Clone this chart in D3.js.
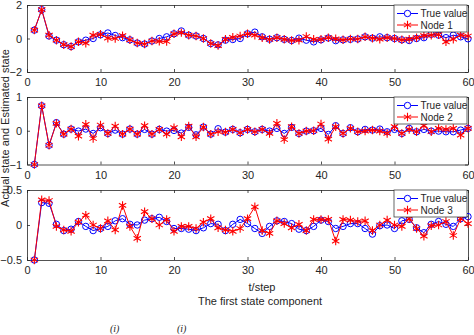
<!DOCTYPE html>
<html>
<head>
<meta charset="utf-8">
<script src="https://cdn.jsdelivr.net/npm/d3@7"></script>
<style>
  html, body { margin: 0; padding: 0; background: #fff; }
  svg { display: block; }
  text { font-family: "Liberation Sans", Arial, Helvetica, sans-serif; fill: #262626; }
</style>
</head>
<body>
<svg id="chart" width="474" height="335"></svg>
<script>
// time steps
const steps = d3.range(1, 61);

// Node 1: true state and estimate
const trueNode1 = [0.5, 1.72, 0.15, -0.1, -0.37, -0.48, -0.2, -0.1, 0.0, 0.22,
  0.33, 0.18, 0.05, -0.08, -0.27, -0.33, -0.15, 0.0, 0.1, 0.28,
  0.45, 0.2, 0.15, 0.0, -0.3, -0.38, -0.1, -0.06, 0.0, 0.28,
  0.38, 0.1, -0.04, 0.05, -0.05, -0.12, 0.02, -0.1, -0.2, -0.08,
  0.03, -0.13, -0.08, -0.05, -0.03, 0.1, 0.02, 0.1, 0.05, 0.0,
  -0.08, -0.12, 0.0, 0.05, 0.25, 0.2, 0.05, 0.2, 0.1, -0.02];
const estNode1 = [0.5, 1.72, 0.2, -0.1, -0.37, -0.48, -0.2, -0.28, 0.2, 0.25,
  0.02, 0.0, 0.17, -0.08, -0.27, -0.33, -0.15, -0.17, -0.18, 0.28,
  0.35, 0.2, 0.15, 0.0, -0.3, -0.42, -0.05, 0.07, 0.15, 0.28,
  0.2, 0.05, -0.06, 0.05, -0.05, -0.12, -0.1, 0.12, -0.05, -0.05,
  0.05, -0.02, -0.08, -0.03, -0.03, 0.1, 0.02, -0.04, 0.05, 0.0,
  -0.08, -0.04, 0.05, 0.17, 0.2, 0.23, -0.2, -0.04, 0.2, 0.15];

// Node 2: true state and estimate
const trueNode2 = [-1.0, 0.74, -0.43, 0.24, -0.1, 0.05, -0.01, 0.05, -0.08, 0.09,
  -0.08, 0.02, -0.1, 0.05, -0.1, 0.04, -0.1, 0.04, -0.01, 0.01,
  -0.07, 0.1, -0.12, 0.11, -0.1, 0.06, -0.04, 0.04, -0.06, 0.04,
  -0.03, 0.04, -0.01, 0.07, -0.08, 0.1, -0.08, -0.01, 0.0, 0.07,
  -0.11, 0.15, -0.08, 0.09, -0.03, 0.04, 0.02, 0.05, -0.03, 0.04,
  -0.08, 0.07, -0.03, 0.04, -0.01, -0.01, -0.03, -0.03, 0.02, 0.07];
const estNode2 = [-1.0, 0.74, -0.43, 0.22, -0.1, 0.05, -0.16, 0.19, -0.23, 0.17,
  -0.08, 0.14, -0.1, 0.05, -0.1, 0.15, -0.1, 0.04, -0.1, 0.09,
  -0.18, 0.14, -0.18, 0.11, -0.1, -0.03, -0.04, 0.04, -0.06, 0.04,
  -0.03, 0.04, -0.08, 0.22, -0.26, 0.12, -0.08, -0.01, 0.0, 0.2,
  -0.25, 0.12, -0.08, 0.07, -0.03, -0.01, 0.02, -0.01, -0.08, 0.12,
  -0.08, 0.04, -0.03, 0.15, -0.03, 0.07, 0.04, 0.07, -0.13, 0.07];

// Node 3: true state and estimate
const trueNode3 = [-0.5, 0.32, 0.31, 0.01, -0.08, -0.06, 0.05, -0.02, -0.08, -0.05,
  -0.02, 0.06, 0.09, 0.01, 0.0, 0.07, 0.09, 0.11, 0.05, -0.05,
  -0.05, -0.06, -0.08, -0.04, 0.02, 0.01, -0.08, 0.01, 0.08, 0.02,
  -0.05, -0.12, -0.02, 0.06, 0.05, 0.02, -0.06, -0.08, -0.02, 0.07,
  0.05, -0.05, -0.02, 0.02, 0.02, -0.05, -0.13, -0.01, 0.0, -0.05,
  0.06, 0.08, -0.04, -0.11, 0.01, 0.05, 0.01, -0.02, 0.09, 0.12];
const estNode3 = [-0.5, 0.36, 0.35, -0.02, -0.07, -0.09, 0.04, 0.14, 0.0, -0.05,
  0.06, -0.07, 0.28, -0.02, -0.19, 0.19, 0.09, 0.0, 0.08, -0.09,
  -0.02, -0.02, -0.05, 0.04, 0.09, -0.04, -0.07, -0.09, -0.05, 0.09,
  0.26, -0.08, -0.12, 0.06, 0.02, -0.04, 0.01, -0.08, 0.08, 0.08,
  0.08, -0.23, 0.08, 0.07, 0.05, 0.06, -0.08, 0.0, 0.07, 0.0,
  -0.02, 0.09, -0.05, -0.16, -0.01, 0.0, 0.05, -0.15, 0.09, 0.02];

const xTicks = [0, 10, 20, 30, 40, 50, 60];
const panelNames = ["Node 1", "Node 2", "Node 3"];
const panelDomains = [[-2, 2], [-1, 1], [-0.5, 0.5]];
const panelYTicks = [[-2, 0, 2], [-1, 0, 1], [-0.5, 0, 0.5]];
const trueSeries = [trueNode1, trueNode2, trueNode3];
const estSeries = [estNode1, estNode2, estNode3];

// layout
const plotLeft = 27, plotRight = 468;
const panelRows = [[5, 72], [97, 164.5], [190, 260]];
const axisColor = "#262626";
const blue = "#0000ff", red = "#ff0000";
const tickFont = "11px";

const svg = d3.select("#chart");
const x = d3.scaleLinear().domain([0, 60]).range([plotLeft, plotRight]);

const asterisk = d3.symbol().type(d3.symbolAsterisk).size(50);
const circleR = 3.2;

function styleAxis(g) {
  g.selectAll("path.domain").attr("stroke", axisColor).attr("stroke-width", 0.8);
  g.selectAll(".tick line").attr("stroke", axisColor).attr("stroke-width", 0.8);
  g.selectAll(".tick text").attr("fill", axisColor).attr("font-size", tickFont)
    .style("font-family", '"Liberation Sans", Arial, sans-serif');
}

panelRows.forEach(([top, bottom], i) => {
  const y = d3.scaleLinear().domain(panelDomains[i]).range([bottom, top]);
  const g = svg.append("g");

  // white plot area
  g.append("rect").attr("x", plotLeft).attr("y", top)
    .attr("width", plotRight - plotLeft).attr("height", bottom - top).attr("fill", "#fff");

  const clipId = "clip" + i;
  svg.append("clipPath").attr("id", clipId).append("rect")
    .attr("x", plotLeft - 5).attr("y", top - 5)
    .attr("width", plotRight - plotLeft + 10).attr("height", bottom - top + 10);

  // axes box with inward ticks
  g.append("g").attr("transform", `translate(0,${bottom})`)
    .call(d3.axisBottom(x).tickValues(xTicks).tickSizeInner(-3).tickSizeOuter(0).tickPadding(6.5).tickFormat(d3.format("d")))
    .call(styleAxis);
  g.append("g").attr("transform", `translate(0,${top})`)
    .call(d3.axisTop(x).tickValues(xTicks).tickSizeInner(-3).tickSizeOuter(0).tickFormat(""))
    .call(styleAxis);
  g.append("g").attr("transform", `translate(${plotLeft},0)`)
    .call(d3.axisLeft(y).tickValues(panelYTicks[i]).tickSizeInner(-3).tickSizeOuter(0).tickPadding(5).tickFormat(d => d3.format("")(d)))
    .call(styleAxis);
  g.append("g").attr("transform", `translate(${plotRight},0)`)
    .call(d3.axisRight(y).tickValues(panelYTicks[i]).tickSizeInner(-3).tickSizeOuter(0).tickFormat(""))
    .call(styleAxis);

  const line = d3.line().x((d, k) => x(steps[k])).y(d => y(d));
  const data = g.append("g").attr("clip-path", `url(#${clipId})`);

  // true value: blue line with open circles
  data.append("path").datum(trueSeries[i]).attr("d", line)
    .attr("fill", "none").attr("stroke", blue).attr("stroke-width", 1);
  data.selectAll("circle.tv").data(trueSeries[i]).join("circle")
    .attr("class", "tv")
    .attr("cx", (d, k) => x(steps[k])).attr("cy", d => y(d)).attr("r", circleR)
    .attr("fill", "none").attr("stroke", blue).attr("stroke-width", 1);

  // node estimate: red line with asterisks
  data.append("path").datum(estSeries[i]).attr("d", line)
    .attr("fill", "none").attr("stroke", red).attr("stroke-width", 1);
  data.selectAll("path.est").data(estSeries[i]).join("path")
    .attr("class", "est")
    .attr("transform", (d, k) => `translate(${x(steps[k])},${y(d)})`)
    .attr("d", asterisk)
    .attr("fill", red).attr("stroke", red).attr("stroke-width", 1.1);

  // legend
  const lg = g.append("g").attr("transform", `translate(394,${top})`);
  lg.append("rect").attr("x", 0).attr("y", 0).attr("width", 73).attr("height", 27)
    .attr("fill", "#fff").attr("stroke", axisColor).attr("stroke-width", 0.7);
  const rows = [
    { label: "True value", color: blue, kind: "circle" },
    { label: panelNames[i], color: red, kind: "asterisk" }
  ];
  rows.forEach((r, j) => {
    const ry = 8.5 + j * 11.5;
    lg.append("line").attr("x1", 3).attr("x2", 24).attr("y1", ry).attr("y2", ry)
      .attr("stroke", r.color).attr("stroke-width", 1);
    if (r.kind === "circle") {
      lg.append("circle").attr("cx", 13.5).attr("cy", ry).attr("r", circleR)
        .attr("fill", "#fff").attr("stroke", r.color).attr("stroke-width", 1);
    } else {
      lg.append("path").attr("transform", `translate(13.5,${ry})`).attr("d", asterisk)
        .attr("fill", r.color).attr("stroke", r.color).attr("stroke-width", 1.1);
    }
    lg.append("text").attr("x", 26.5).attr("y", ry + 3.6)
      .attr("font-size", "10px").text(r.label);
  });
});

// axis titles
svg.append("text")
  .attr("transform", "translate(9,128) rotate(-90)")
  .attr("text-anchor", "middle").attr("font-size", "11px")
  .text("Actual state and Estimated state");
svg.append("text").attr("x", 262).attr("y", 291)
  .attr("text-anchor", "middle").attr("font-size", "11px").text("t/step");
svg.append("text").attr("x", 260).attr("y", 305)
  .attr("text-anchor", "middle").attr("font-size", "11px").text("The first state component");

// caption superscripts continuing below the figure
const captionFont = '"Liberation Serif", "DejaVu Serif", serif';
[110, 177].forEach(cx => {
  svg.append("text").attr("x", cx).attr("y", 331.5)
    .style("font-family", captionFont).style("font-style", "italic")
    .attr("font-size", "10px").attr("fill", "#222").text("(i)");
});
</script>
</body>
</html>
